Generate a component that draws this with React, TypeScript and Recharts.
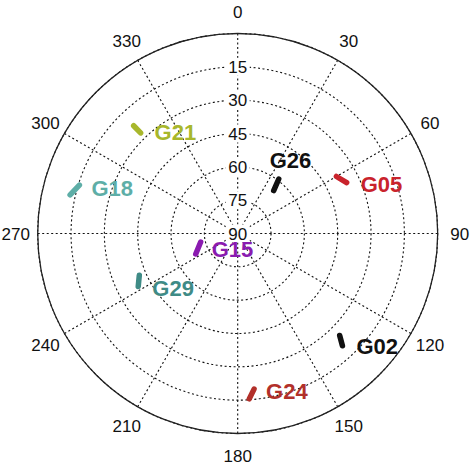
import { RadarChart, PolarGrid, PolarAngleAxis, PolarRadiusAxis, Radar, ScatterChart, Scatter, XAxis, YAxis } from 'recharts'

// azimuth ticks, clockwise from north
const azimuthTicks = [0, 30, 60, 90, 120, 150, 180, 210, 240, 270, 300, 330]
// zenith distance ticks (label shows elevation = 90 - value)
const zenithTicks = [0, 15, 30, 45, 60, 75, 90]

const satellites = ['G21', 'G18', 'G26', 'G05', 'G15', 'G29', 'G02', 'G24']
const azimuth = [
  [316, 316],
  [283, 287],
  [40, 37],
  [60, 65],
  [244, 257],
  [242, 247],
  [135, 137],
  [176, 174],
]
const elevation = [
  [22.6, 27.1],
  [12.6, 15.5],
  [64.8, 59.3],
  [38.7, 35.9],
  [69, 72.9],
  [39.3, 41.9],
  [25.1, 20.9],
  [15.4, 19.6],
]

const colors = ['#a8b72c', '#5eaea7', '#111111', '#c9232c', '#8a1bb0', '#3f8b86', '#111111', '#b2302a']
const labelOffsets = [
  [14, -1],
  [12, 3],
  [-9, -19],
  [14, 1],
  [11, 7],
  [13, 13],
  [14, 0],
  [12, 2],
]

const SIZE = 474
const CX = 237.7
const CY = 233.5
const R = 200
const FONT = '"Liberation Sans", Arial, Helvetica, sans-serif'

const angleData = azimuthTicks.map((a) => ({ az: String(a), r: 0 }))

const tracks = satellites.map((name, i) =>
  azimuth[i].map((az, j) => {
    const z = 90 - elevation[i][j]
    const rad = (az * Math.PI) / 180
    return { x: z * Math.sin(rad), y: z * Math.cos(rad), last: j === azimuth[i].length - 1 }
  })
)

function AngleTick(props: any) {
  const a = (props.payload.coordinate * Math.PI) / 180
  const x = CX + 222 * Math.cos(a)
  const y = CY - 222 * Math.sin(a)
  return (
    <text x={x} y={y + 6} textAnchor="middle" fontSize={17} fontFamily={FONT} fill="#111">
      {props.payload.value}
    </text>
  )
}

function RadiusTick(props: any) {
  const { x, y, payload } = props
  if (payload.value === 90) return <g />
  return (
    <g>
      <rect x={x - 12} y={y - 9} width={24} height={18} fill="#fff" />
      <text x={x} y={y + 6} textAnchor="middle" fontSize={17} fontFamily={FONT} fill="#111">
        {90 - payload.value}
      </text>
    </g>
  )
}

export default function App() {
  return (
    <div style={{ position: 'absolute', left: 0, top: 0, width: SIZE, height: SIZE, background: '#fff' }}>
      <div style={{ position: 'absolute', left: 0, top: 0 }}>
        <RadarChart
          width={SIZE}
          height={SIZE}
          data={angleData}
          cx={CX}
          cy={CY}
          outerRadius={R}
          startAngle={90}
          endAngle={-270}
          margin={{ top: 0, right: 0, bottom: 0, left: 0 }}
        >
          <PolarGrid gridType="circle" stroke="#111" strokeDasharray="2 2.5" strokeWidth={1.1} />
          <PolarAngleAxis
            dataKey="az"
            tick={<AngleTick />}
            tickLine={false}
            axisLineType="circle"
            axisLine={{ stroke: '#222', strokeWidth: 1.3, strokeDasharray: '' }}
          />
          <PolarRadiusAxis
            angle={90}
            type="number"
            domain={[0, 90]}
            ticks={zenithTicks}
            tickCount={7}
            axisLine={false}
            tick={<RadiusTick />}
          />
          <Radar dataKey="r" stroke="none" fill="none" isAnimationActive={false} />
        </RadarChart>
      </div>
      <div style={{ position: 'absolute', left: 0, top: 0 }}>
        <ScatterChart
          width={SIZE}
          height={SIZE}
          margin={{ top: CY - R, bottom: SIZE - CY - R, left: CX - R, right: SIZE - CX - R }}
        >
          <XAxis type="number" dataKey="x" domain={[-90, 90]} hide allowDataOverflow />
          <YAxis type="number" dataKey="y" domain={[-90, 90]} hide allowDataOverflow />
          {tracks.map((pts, i) => (
            <Scatter
              key={satellites[i]}
              data={pts}
              fill={colors[i]}
              line={{ stroke: colors[i], strokeWidth: 5.5, strokeLinecap: 'round' }}
              isAnimationActive={false}
              shape={(p: any) =>
                p.payload && p.payload.last ? (
                  <text
                    x={p.cx + labelOffsets[i][0]}
                    y={p.cy + labelOffsets[i][1] + 8}
                    fontSize={22}
                    fontWeight="bold"
                    fontFamily={FONT}
                    fill={colors[i]}
                  >
                    {satellites[i]}
                  </text>
                ) : (
                  <g />
                )
              }
            />
          ))}
        </ScatterChart>
      </div>
    </div>
  )
}
